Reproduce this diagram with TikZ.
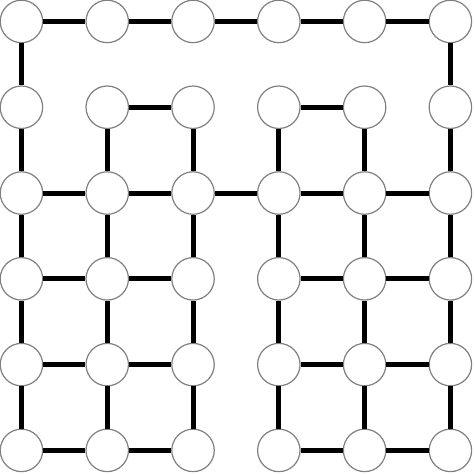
\documentclass[tikz,border=0pt]{standalone}
\usepackage{tikz}

\begin{document}
\begin{tikzpicture}%
  [every node/.style={circle, draw=gray, line width=0.8pt, fill=white,
                      minimum size=0.99cm, inner sep=0pt},
   link/.style={line width=3.3pt},
  ]
\useasboundingbox (-0.5,-0.55) rectangle (10.55,10.5);
% top row
\node (1) at (0,10) {};
\node (2) at (2,10) {};
\node (3) at (4,10) {};
\node (4) at (6,10) {};
\node (5) at (8,10) {};
\node (6) at (10,10) {};
% second row
\node (7) at (0,8) {};
\node (8) at (2,8) {};
\node (9) at (4,8) {};
\node (10) at (6,8) {};
\node (11) at (8,8) {};
\node (12) at (10,8) {};
% third row
\node (13) at (0,6) {};
\node (14) at (2,6) {};
\node (15) at (4,6) {};
\node (16) at (6,6) {};
\node (17) at (8,6) {};
\node (18) at (10,6) {};
% fourth row
\node (19) at (0,4) {};
\node (20) at (2,4) {};
\node (21) at (4,4) {};
\node (22) at (6,4) {};
\node (23) at (8,4) {};
\node (24) at (10,4) {};
% fifth row
\node (25) at (0,2) {};
\node (26) at (2,2) {};
\node (27) at (4,2) {};
\node (28) at (6,2) {};
\node (29) at (8,2) {};
\node (30) at (10,2) {};
% bottom row
\node (31) at (0,0) {};
\node (32) at (2,0) {};
\node (33) at (4,0) {};
\node (34) at (6,0) {};
\node (35) at (8,0) {};
\node (36) at (10,0) {};

\path[link]
%   FROM   TO
   (1) edge (2)  edge (7)
   (2) edge (3)
   (3) edge (4)
   (4) edge (5)
   (5) edge (6)
   (6) edge (12)
   (7) edge (13)
   (8) edge (9)  edge (14)
   (9) edge (15)
   (10) edge (11) edge (16)
   (11) edge (17)
   (12) edge (18)
   (13) edge (14) edge (19)
   (14) edge (15) edge (20)
   (15) edge (16) edge (21)
   (16) edge (17) edge (22)
   (17) edge (18) edge (23)
   (18) edge (24)
   (19) edge (20) edge (25)
   (20) edge (21) edge (26)
   (21) edge (27)
   (22) edge (23) edge (28)
   (23) edge (24) edge (29)
   (24) edge (30)
   (25) edge (26) edge (31)
   (26) edge (27) edge (32)
   (27) edge (33)
   (28) edge (29) edge (34)
   (29) edge (30) edge (35)
   (30) edge (36)
   (31) edge (32)
   (32) edge (33)
   (34) edge (35)
   (35) edge (36)
   ;
\end{tikzpicture}
\end{document}
